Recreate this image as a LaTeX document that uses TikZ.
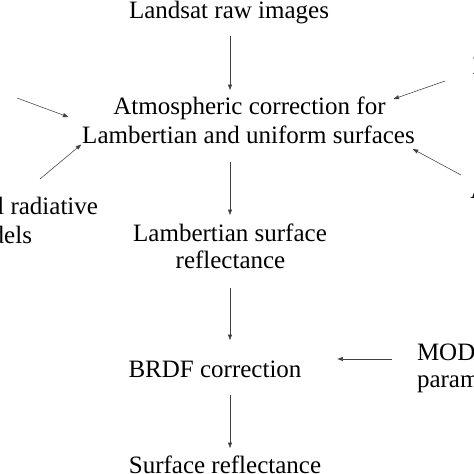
\documentclass[tikz,border=0pt]{standalone}
\usepackage{fontspec}
\setmainfont{Liberation Serif}
\usetikzlibrary{arrows.meta,calc}
\begin{document}
\begin{tikzpicture}[x=1pt,y=-1pt,
  txt/.style={inner sep=0pt,outer sep=0pt,font=\fontsize{25}{29}\selectfont,text=black},
  arr/.style={draw=black!75,line width=0.55pt,-{Triangle[length=5.5pt,width=4pt]}}]
\useasboundingbox (0,0) rectangle (474,474);
\clip (0,0) rectangle (474,474);
\coordinate (col) at (230,0);
% main column
\node[txt,anchor=base] (landsat) at (229,18) {Landsat raw images};
\node[txt,anchor=base] (atm1) at (249.5,114) {Atmospheric correction for};
\node[txt,anchor=base] (atm2) at (248.5,143) {Lambertian and uniform surfaces};
\node[txt,anchor=base] (lamb1) at (230,241) {Lambertian surface};
\node[txt,anchor=base] (lamb2) at (230.5,268) {reflectance};
\node[txt,anchor=base] (brdf) at (215,377) {BRDF correction};
\node[txt,anchor=base] (surf) at (225,473) {Surface reflectance};
% side inputs (cropped by the frame)
\node[txt,anchor=base west] (modis1) at (417,360) {MODIS BRDF};
\node[txt,anchor=base west] (modis2) at (417,387) {parameters};
\node[txt,anchor=base east] (rt1) at (98,214) {Physical radiative};
\node[txt,anchor=base east] (rt2) at (32,243) {transfer models};
\node[txt,anchor=base west] (dem) at (472.3,74) {DEM};
\node[txt,anchor=base west] (aer) at (470.3,198) {Aerosol};
\coordinate (srcA) at (17,98);
% vertical connectors
\draw[arr] ($(landsat.base -| col)+(0,18)$) -- ($(atm1.base -| col)+(0,-24)$);
\draw[arr] ($(atm2.base -| col)+(0,19)$) -- ($(lamb1.base -| col)+(0,-26)$);
\draw[arr] ($(lamb2.base -| col)+(0,20)$) -- ($(brdf.base -| col)+(0,-37)$);
\draw[arr] ($(brdf.base -| col)+(0,18)$) -- ($(surf.base -| col)+(0,-25)$);
% horizontal connector
\draw[arr] ($(modis1.base west)+(-25,-1)$) -- ($(brdf.base east)+(36,-18)$);
% diagonal connectors
\draw[arr] (srcA) -- ($(atm1.base west)+(-45,3)$);
\draw[arr] ($(rt1.base east)+(-58,-35)$) -- ($(atm2.base west)+(-1,1.5)$);
\draw[arr] ($(dem.base west)+(-27.3,7)$) -- ($(atm1.base east)+(8,-15)$);
\draw[arr] ($(aer.base west)+(-9.3,-23)$) -- ($(atm2.base east)+(-2,6)$);
\end{tikzpicture}
\end{document}
